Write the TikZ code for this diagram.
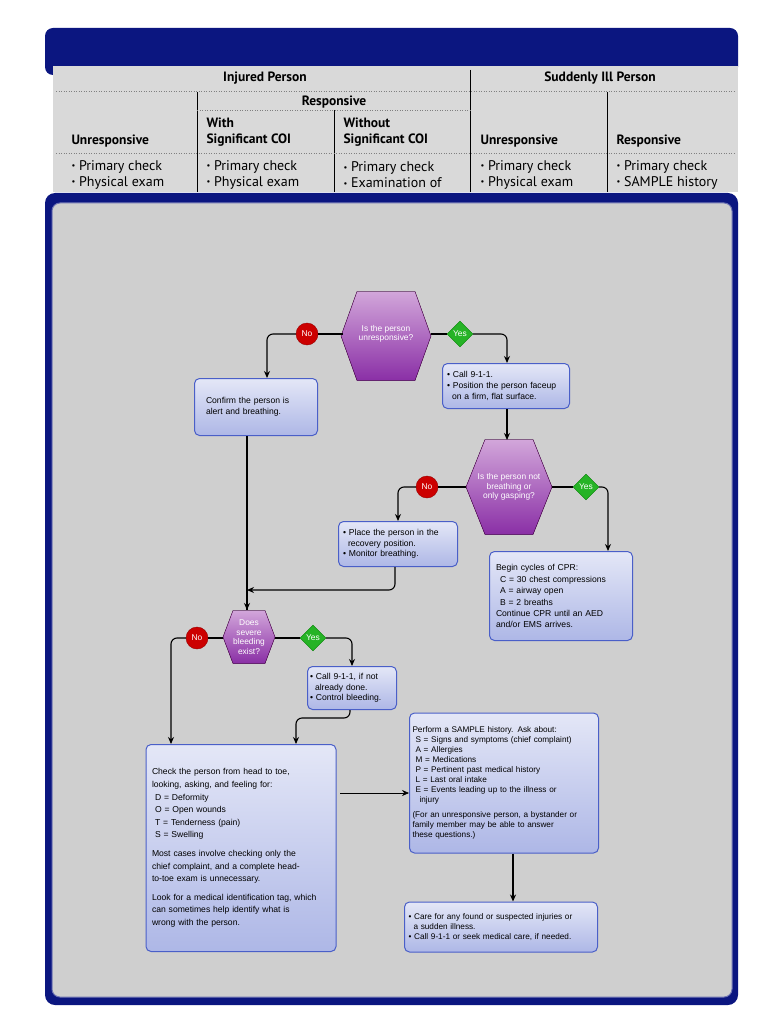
\documentclass[tikz,border=0pt]{standalone}
\usepackage{fontspec}
\setmainfont{Liberation Sans}
\newfontfamily\hdr{PT Sans}
\usetikzlibrary{arrows.meta,shapes.geometric}
\definecolor{navy}{HTML}{0B1680}
\definecolor{panel}{HTML}{CFCFCF}
\definecolor{tabbg}{HTML}{D9D9D9}
\definecolor{boxline}{HTML}{4A5FC8}
\definecolor{hextop}{HTML}{D2A6DA}
\definecolor{hexbot}{HTML}{8A2FA6}
\tikzset{
 box/.style={draw=boxline,line width=1pt,rounded corners=5pt,top color=white!85!boxline,bottom color=boxline!45!white,align=left,font=\fontsize{8.6}{10.6}\selectfont,inner xsep=6pt},
 hextxt/.style={text=white,align=center,font=\fontsize{8.4}{9.6}\selectfont},
 nocirc/.style={circle,fill=red!80!black,draw=red!60!black,minimum size=22pt,inner sep=0pt,text=white,font=\fontsize{8.4}{8}\selectfont},
 yesdia/.style={diamond,fill=green!65!black!85,draw=green!50!black,minimum size=26pt,inner sep=0pt,text=white,font=\fontsize{8.4}{8}\selectfont},
 flow/.style={line width=1.1pt,rounded corners=6pt},
 arr/.style={flow,-{Stealth[length=7pt,width=6pt]}},
 hd/.style={font=\hdr\fontsize{14}{16}\selectfont},
 hdb/.style={font=\hdr\bfseries\fontsize{13.5}{16}\selectfont},
 dotl/.style={dotted,line width=0.5pt,gray}
}
\newcommand{\hexshape}[5]{% cx cy w h inset
 \fill[top color=hextop,bottom color=hexbot,draw=violet!60!black,line width=0.4pt]
 ({#1-#3/2},#2) -- ({#1-#3/2+#5},{#2-#4/2}) -- ({#1+#3/2-#5},{#2-#4/2}) -- ({#1+#3/2},#2) -- ({#1+#3/2-#5},{#2+#4/2}) -- ({#1-#3/2+#5},{#2+#4/2}) -- cycle;}
\newcommand{\bl}{\raisebox{0.25ex}{\scalebox{0.6}{\textbullet}}\ }
\begin{document}
\begin{tikzpicture}[x=1pt,y=-1pt]
\useasboundingbox (0,0) rectangle (768,1024);
\fill[white] (0,0) rectangle (768,1024);
% header
\fill[navy,rounded corners=8pt] (45,28) rectangle (738,75);
\fill[tabbg] (53,66) rectangle (738,192);
\draw[line width=0.6pt] (470,70) -- (470,192) (197,92) -- (197,192) (334,110) -- (334,192) (607,92) -- (607,192);
\draw[dotl] (56,91) -- (735,91) (197,110) -- (470,110) (56,153) -- (735,153);
\node[hdb] (t1) at (265,78) {Injured Person};
\node[hdb] (t2) at (600,78) {Suddenly Ill Person};
\node[hdb] (t3) at (334,102) {Responsive};
\node[hdb,anchor=west] (c1) at (68,141) {Unresponsive};
\node[hdb,anchor=west,align=left] (c2) at (203,132) {With\\Significant COI};
\node[hdb,anchor=west,align=left] (c3) at (340,132) {Without\\Significant COI};
\node[hdb,anchor=west] (c4) at (477,141) {Unresponsive};
\node[hdb,anchor=west] (c5) at (613,141) {Responsive};
\node[hd,anchor=west,align=left] (b1) at (68,175) {\bl Primary check\\\bl Physical exam};
\node[hd,anchor=west,align=left] (b2) at (203,175) {\bl Primary check\\\bl Physical exam};
\node[hd,anchor=west,align=left] (b3) at (340,175) {\bl Primary check\\\bl Examination of};
\node[hd,anchor=west,align=left] (b4) at (477,175) {\bl Primary check\\\bl Physical exam};
\node[hd,anchor=west,align=left] (b5) at (613,175) {\bl Primary check\\\bl SAMPLE history};
% panel
\fill[navy,rounded corners=10pt] (45,193) rectangle (738,1005);
\fill[panel,draw=navy!60!white,line width=1pt,rounded corners=8pt] (52,203) rectangle (732,997);
% hexagons
\hexshape{386}{336}{90}{89}{16}
\node[hextxt] (h1) at (386,334) {Is the person\\unresponsive?};
\hexshape{509}{487}{86}{95}{19}
\node[hextxt] (h2) at (509,487) {Is the person not\\breathing or\\only gasping?};
\hexshape{249}{637}{52}{53}{10}
\node[hextxt] (h3) at (249,637) {Does\\severe\\bleeding\\exist?};
% boxes
\node[box,minimum width=123pt,minimum height=57pt,text width=100pt] (confirm) at (256,407) {Confirm the person is\\alert and breathing.};
\node[box,minimum width=127pt,minimum height=45pt,text width=118pt,inner xsep=4pt] (call) at (506,386) {\textbullet\ Call 9-1-1.\\\textbullet\ Position the person faceup\\\hspace*{5pt}on a firm, flat surface.};
\node[box,minimum width=119pt,minimum height=45pt,text width=110pt,inner xsep=4pt] (place) at (398,544) {\textbullet\ Place the person in the\\\hspace*{5pt}recovery position.\\\textbullet\ Monitor breathing.};
\node[box,minimum width=143pt,minimum height=89pt,text width=130pt] (cpr) at (561,596) {Begin cycles of CPR:\\[1pt]\hspace*{4pt}C = 30 chest compressions\\[1pt]\hspace*{4pt}A = airway open\\[1pt]\hspace*{4pt}B = 2 breaths\\[1pt]Continue CPR until an AED\\and/or EMS arrives.};
\node[box,minimum width=89pt,minimum height=43pt,text width=84pt,inner xsep=2pt] (call2) at (352,688) {\textbullet\ Call 9-1-1, if not\\\hspace*{5pt}already done.\\\textbullet\ Control bleeding.};
\node[box,minimum width=190pt,minimum height=207pt,text width=178pt] (check) at (241,848) {Check the person from head to toe,\\[2pt]looking, asking, and feeling for:\\[2pt]\hspace*{3pt}D = Deformity\\[2pt]\hspace*{3pt}O = Open wounds\\[2pt]\hspace*{3pt}T = Tenderness (pain)\\[2pt]\hspace*{3pt}S = Swelling\\[8pt]Most cases involve checking only the\\[2pt]chief complaint, and a complete head-\\[2pt]to-toe exam is unnecessary.\\[8pt]Look for a medical identification tag, which\\[2pt]can sometimes help identify what is\\[2pt]wrong with the person.};
\node[box,minimum width=189pt,minimum height=140pt,text width=183pt,inner xsep=3pt,font=\fontsize{8.2}{10}\selectfont] (sample) at (504,783) {Perform a SAMPLE history. Ask about:\\\hspace*{3pt}S = Signs and symptoms (chief complaint)\\\hspace*{3pt}A = Allergies\\\hspace*{3pt}M = Medications\\\hspace*{3pt}P = Pertinent past medical history\\\hspace*{3pt}L = Last oral intake\\\hspace*{3pt}E = Events leading up to the illness or\\\hspace*{7pt}injury\\[5pt](For an unresponsive person, a bystander or\\family member may be able to answer\\these questions.)};
\node[box,minimum width=193pt,minimum height=50pt,text width=185pt,inner xsep=3pt,font=\fontsize{8.2}{10.4}\selectfont] (care) at (501,927) {\textbullet\ Care for any found or suspected injuries or\\\hspace*{5pt}a sudden illness.\\\textbullet\ Call 9-1-1 or seek medical care, if needed.};
% labels
\node[nocirc] (no1) at (307,334) {No};
\node[yesdia] (yes1) at (460,334) {Yes};
\node[nocirc] (no2) at (427,487) {No};
\node[yesdia] (yes2) at (586,487) {Yes};
\node[nocirc] (no3) at (197,638) {No};
\node[yesdia] (yes3) at (313,638) {Yes};
% connectors
\draw[flow] (343,334) -- (no1.east);
\draw[arr] (no1) -- (267,334) -- (confirm.north -| 267,0);
\draw[flow] (yes1) -- (431,334);
\draw[arr] (yes1) -- (507,334) -- (call.north -| 507,0);
\draw[arr] (call.south -| 507,0) -- (507,440);
\draw[flow] (466,487) -- (no2);
\draw[arr] (no2) -- (398,487) -- (place.north -| 398,0);
\draw[flow] (552,487) -- (yes2);
\draw[arr] (yes2) -- (608,487) -- (cpr.north -| 608,0);
\draw[flow] (confirm.south -| 247,0) -- (247,610);
\draw[arr] (place.south -| 395,0) -- (395,590) -- (247,590);
\draw[arr] (247,590) -- (247,610);
\draw[flow] (223,638) -- (no3);
\draw[arr] (no3) -- (171,638) -- (check.north -| 171,0);
\draw[flow] (275,638) -- (yes3);
\draw[arr] (yes3) -- (352,638) -- (call2.north -| 352,0);
\draw[arr] (call2.south -| 350,0) -- (350,718) -- (296,718) -- (check.north -| 296,0);
\draw[-{Stealth[length=7pt,width=6pt]},line width=0.6pt] (340,793) -- (sample.west |- 0,793);
\draw[arr] (sample.south -| 513,0) -- (care.north -| 513,0);
\end{tikzpicture}
\end{document}
